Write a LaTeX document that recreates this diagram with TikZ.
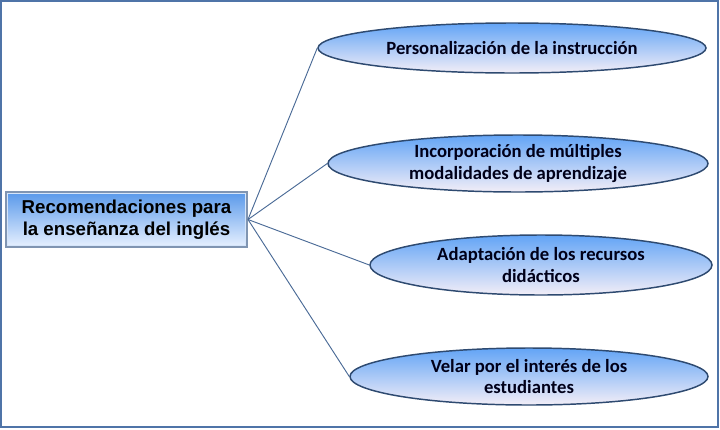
\documentclass[tikz,border=0pt]{standalone}
\usepackage{fontspec}
\setmainfont{Carlito}
\newfontfamily\boxfont{Liberation Sans}
\usetikzlibrary{shapes.geometric}
\definecolor{framecol}{HTML}{4F74A8}
\definecolor{edgecol}{HTML}{2E4A70}
\definecolor{linkcol}{HTML}{4A6A96}
\definecolor{ovaltop}{HTML}{62A4F6}
\definecolor{ovalbot}{HTML}{F3EEF7}
\definecolor{boxtop}{HTML}{5898EA}
\definecolor{boxbot}{HTML}{E8F1FF}
\definecolor{boxedge}{HTML}{8095B2}
\begin{document}
\begin{tikzpicture}[
    x=0.75pt, y=-0.75pt,
    topic/.style={rectangle, draw=boxedge, line width=1.5pt, top color=boxtop, bottom color=boxbot, minimum width=180.75pt, minimum height=41.25pt, inner sep=0pt, align=center, font=\boxfont\bfseries\fontsize{14}{16.5}\selectfont},
    idea/.style={ellipse, draw=edgecol, line width=1.1pt, top color=ovaltop, bottom color=ovalbot, inner sep=0pt, align=center, text=black!90!blue, font=\bfseries\fontsize{14}{16.3}\selectfont},
    link/.style={draw=linkcol, line width=0.7pt}
]
\useasboundingbox (0,0) rectangle (720,429);
\draw[framecol, line width=1.5pt] (1,1) rectangle (718,427);

\node[topic] (rec) at (126.5,219.5) {Recomendaciones para\\la enseñanza del inglés};
\draw[white!75!boxtop, line width=0.8pt] ([xshift=2pt,yshift=2pt]rec.south west) rectangle ([xshift=-2pt,yshift=-2pt]rec.north east);

\node[idea, minimum width=291pt, minimum height=37.5pt] (pers) at (512,48) {Personalización de la instrucción};
\node[idea, minimum width=285pt, minimum height=42.75pt] (inco) at (518,163.5) {Incorporación de múltiples\\modalidades de aprendizaje};
\node[idea, minimum width=256.5pt, minimum height=45pt] (adap) at (541,265) {Adaptación de los recursos\\didácticos};
\node[idea, minimum width=268.5pt, minimum height=42.75pt] (vela) at (529,376.5) {Velar por el interés de los\\estudiantes};

\draw[link] (rec.east) -- (pers.west);
\draw[link] (rec.east) -- (inco.west);
\draw[link] (rec.east) -- (adap.west);
\draw[link] (rec.east) -- (vela.west);
\end{tikzpicture}
\end{document}
